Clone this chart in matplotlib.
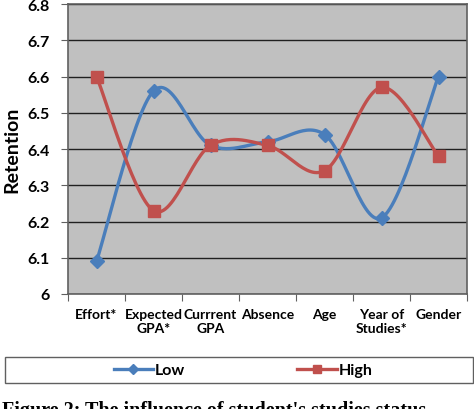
import numpy as np
import matplotlib.pyplot as plt
from matplotlib.patches import Rectangle

categories = ["Effort*", "Expected\nGPA*", "Currrent\nGPA", "Absence", "Age", "Year of\nStudies*", "Gender"]
low = [6.09, 6.56, 6.41, 6.42, 6.44, 6.21, 6.60]
high = [6.60, 6.23, 6.41, 6.41, 6.34, 6.57, 6.38]

plt.rcParams['font.family'] = ['Lato', 'DejaVu Sans']
plt.rcParams['font.weight'] = 'bold'


def smooth(x, y, n=30):
    # excel-like smoothed line (catmull-rom)
    x = np.asarray(x, float)
    y = np.asarray(y, float)
    px = np.concatenate([[x[0]], x, [x[-1]]])
    py = np.concatenate([[y[0]], y, [y[-1]]])
    xs, ys = [], []
    t = np.linspace(0, 1, n)
    for i in range(1, len(px) - 2):
        p0, p1, p2, p3 = [np.array([px[j], py[j]]) for j in (i - 1, i, i + 1, i + 2)]
        c1 = p1 + (p2 - p0) / 6
        c2 = p2 - (p3 - p1) / 6
        pts = ((1 - t) ** 3)[:, None] * p1 + (3 * (1 - t) ** 2 * t)[:, None] * c1 \
            + (3 * (1 - t) * t ** 2)[:, None] * c2 + (t ** 3)[:, None] * p2
        xs.extend(pts[:, 0])
        ys.extend(pts[:, 1])
    return xs, ys


fig = plt.figure(figsize=(4.74, 4.10), dpi=100)
ax = fig.add_axes([68 / 474, 115 / 410, 399 / 474, 290 / 410])
ax.set_facecolor('#c0c0c0')

x = np.arange(len(categories)) + 0.5
blue = '#4a7ebb'
red = '#c0504d'

sx, sy = smooth(x, low)
ax.plot(sx, sy, color=blue, lw=2.4, zorder=3)
ax.plot(x, low, ls='none', marker='D', ms=7, color=blue, zorder=4)
sx, sy = smooth(x, high)
ax.plot(sx, sy, color=red, lw=2.4, zorder=3)
ax.plot(x, high, ls='none', marker='s', ms=9, color=red, zorder=4)

ax.set_xlim(0, len(categories))
ax.set_ylim(6, 6.8)
ax.set_yticks(np.arange(6, 6.81, 0.1))
ax.set_yticklabels(['6', '6.1', '6.2', '6.3', '6.4', '6.5', '6.6', '6.7', '6.8'], fontsize=11.5)
ax.yaxis.grid(True, color='#202020', lw=1)
ax.set_axisbelow(True)

ax.set_xticks(np.arange(len(categories) + 1))
ax.set_xticklabels([])
ax.set_xticks(x, minor=True)
ax.set_xticklabels(categories, minor=True, fontsize=10, linespacing=1.2)
ax.tick_params(axis='x', which='minor', length=0, pad=10)
ax.tick_params(axis='x', which='major', length=5, color='#606060')
ax.tick_params(axis='y', length=5, color='#606060', pad=8)
for lbl in ax.get_xticklabels(minor=True):
    lbl.set_verticalalignment('top')

for s in ax.spines.values():
    s.set_color('#606060')
    s.set_linewidth(1.2)

ax.set_ylabel('Retention', fontsize=14, fontweight='bold', labelpad=5)

# legend box
fig.patches.append(Rectangle((5 / 474, 1 - 384 / 410), 468 / 474, 26 / 410,
                             transform=fig.transFigure, fill=False, ec='#606060', lw=1))
h1, = ax.plot([], [], color=blue, lw=2.4, marker='D', ms=5)
h2, = ax.plot([], [], color=red, lw=2.4, marker='s', ms=6)
fig.legend([h1, h2], ['Low', 'High'], loc='center', bbox_to_anchor=(243 / 474, 1 - 371 / 410),
           ncol=2, frameon=False, fontsize=11.5, handlelength=2.5, handletextpad=0.1,
           columnspacing=7)

fig.text(2 / 474, 1 - 401 / 410, "Figure 2: The influence of student's studies status",
         fontsize=14.5, fontweight='bold', family='Liberation Serif', va='top', ha='left')

fig.savefig('out.png')
